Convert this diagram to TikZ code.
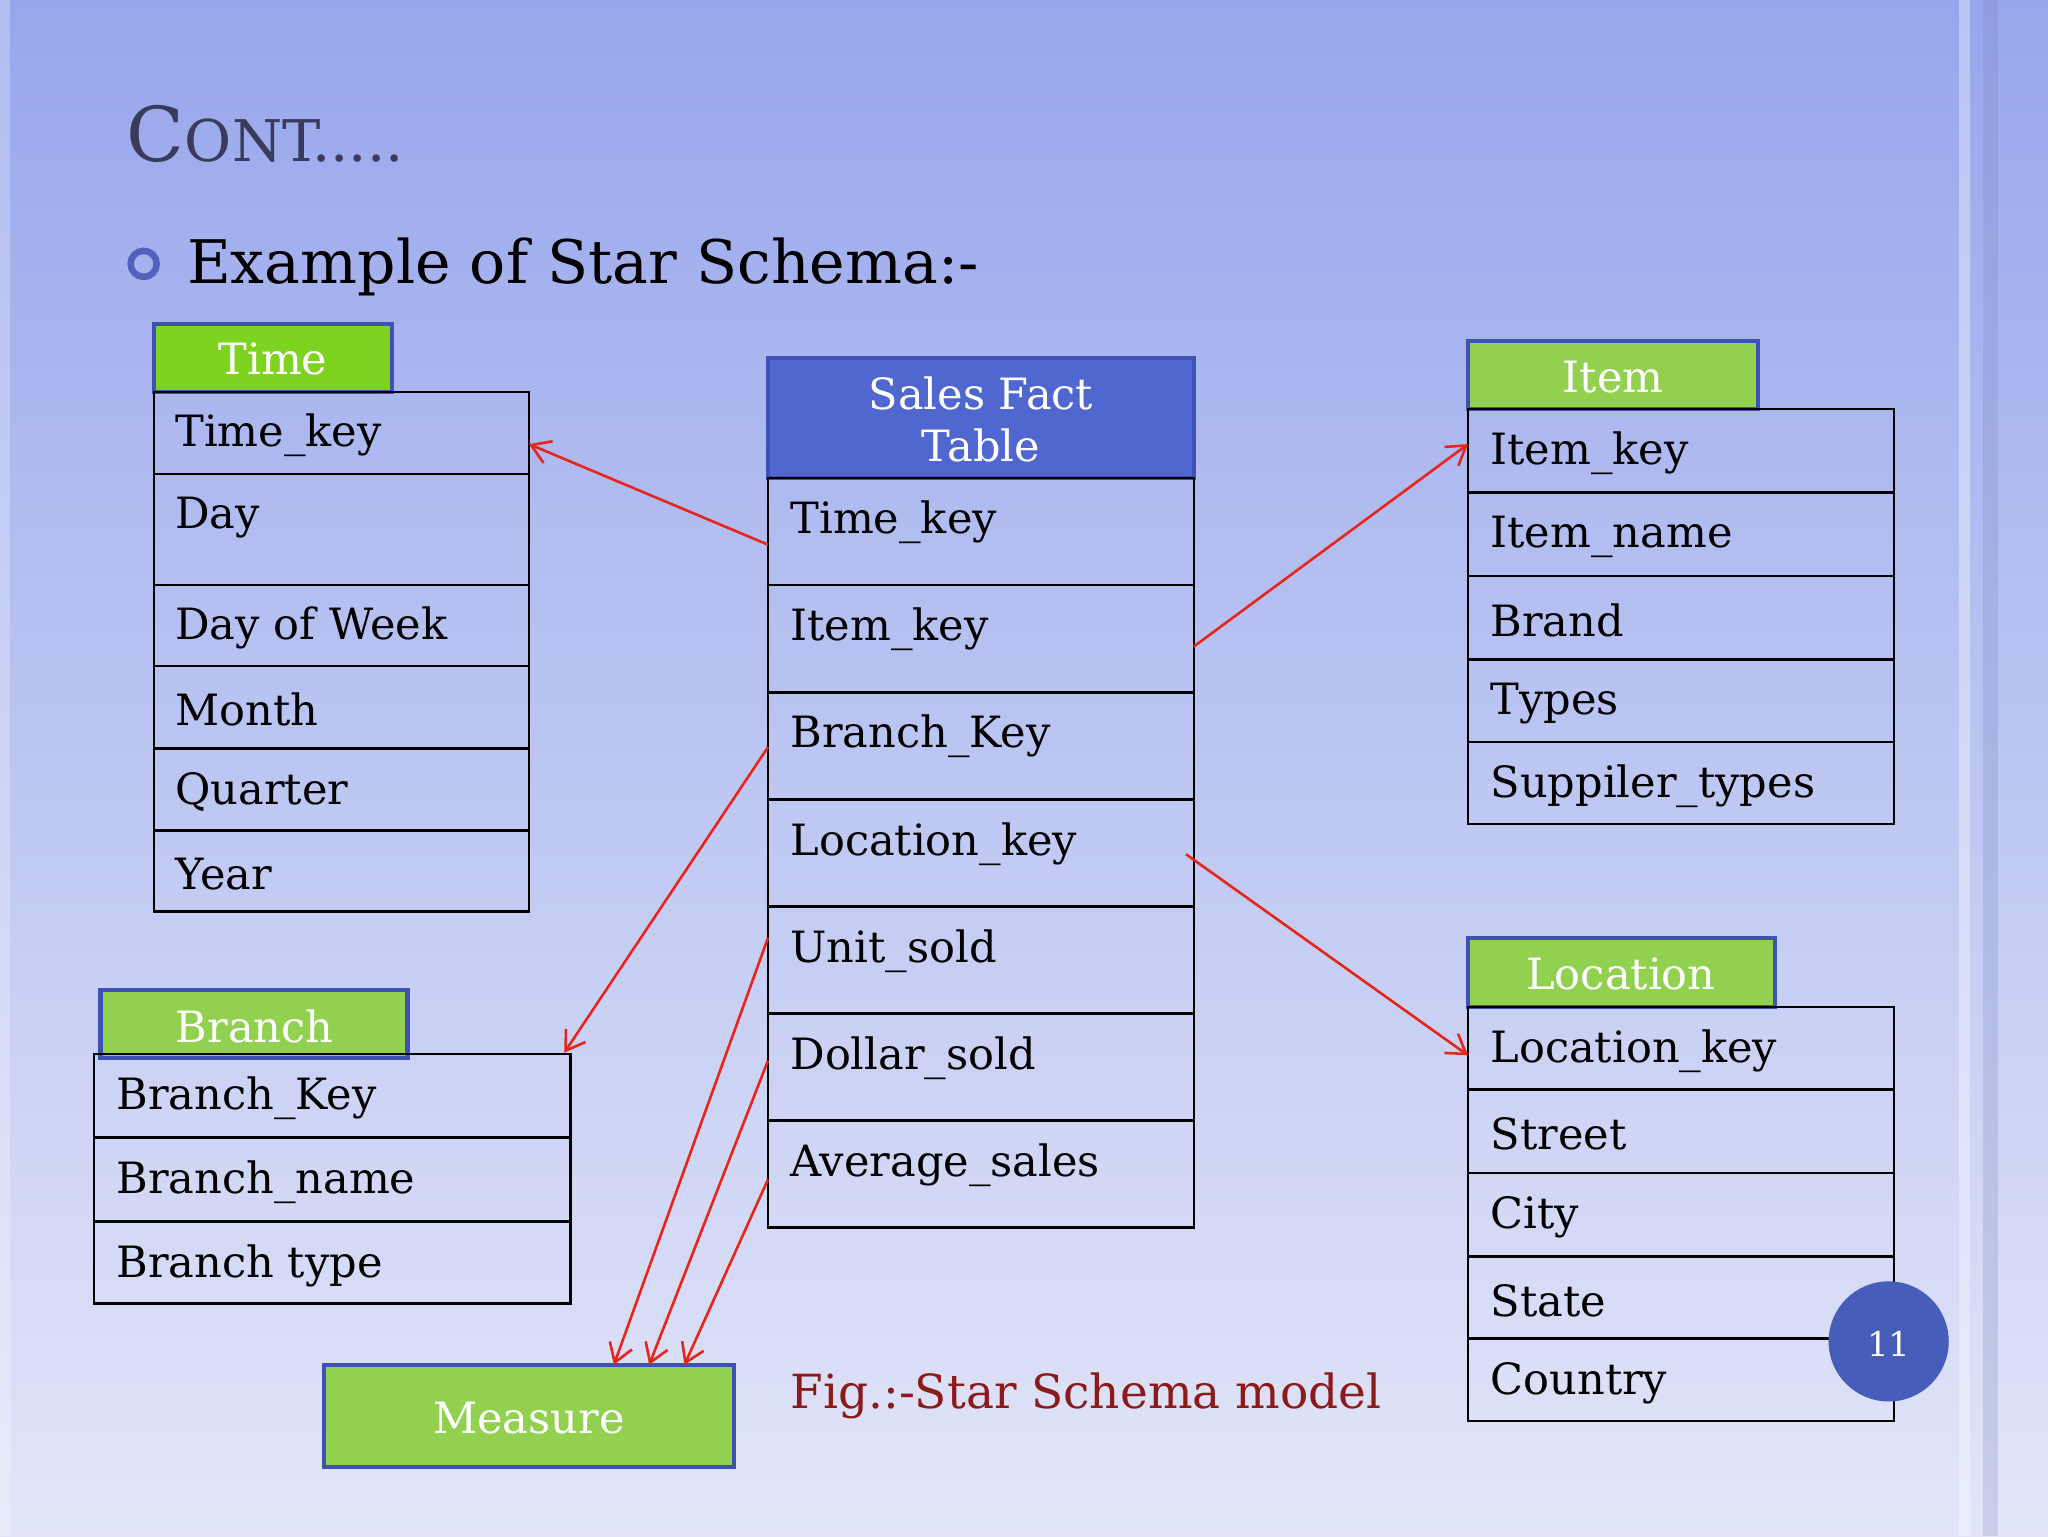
\documentclass[tikz,border=0pt]{standalone}
\usepackage{fontspec}
\setmainfont{DejaVu Serif}
\usetikzlibrary{arrows.meta}
\definecolor{bgtop}{HTML}{97A6EC}
\definecolor{bgbot}{HTML}{E2E6F8}
\definecolor{hdrblue}{HTML}{4F67CF}
\definecolor{hdrgreen}{HTML}{92D050}
\definecolor{hdrgreen2}{HTML}{7ED321}
\definecolor{bord}{HTML}{3F51B5}
\definecolor{arr}{HTML}{E8251A}
\definecolor{figred}{HTML}{8B1A1A}
\definecolor{titlec}{HTML}{3A3A5A}
\tikzset{
 row/.style={draw=black,line width=2pt},
 rowtxt/.style={anchor=west,font=\fontsize{33}{33}\selectfont,inner sep=0pt},
 hdr/.style={draw=bord,line width=3.5pt},
 hdrtxt/.style={text=white,font=\fontsize{33}{40}\selectfont,align=center},
 conn/.style={draw=arr,line width=2pt,-{Straight Barb[length=14pt,width=18pt,line width=2pt]}}
}
\begin{document}
\begin{tikzpicture}[x=1pt,y=-1pt]
\shade[top color=bgtop,bottom color=bgbot] (0,0) rectangle (1568,1176);
\useasboundingbox (0,0) rectangle (1568,1176);
\fill[white,opacity=0.35] (1500,0) rectangle (1508,1176);
\fill[bgtop!80!black,opacity=0.25] (1518,0) rectangle (1530,1176);
\fill[white,opacity=0.25] (0,0) rectangle (8,1176);
% title
\node[anchor=base west,text=titlec,font=\fontsize{58}{58}\selectfont,inner sep=0] (title) at (97,124) {C\fontsize{44}{44}\selectfont ONT.....};
\draw[bord!90,line width=5pt] (110,202) circle (10);
\node[anchor=base west,font=\fontsize{46}{46}\selectfont,inner sep=0] (sub) at (143,217) {Example of Star Schema:-};
% Time
\fill[hdrgreen2] (118,248) rectangle (300,300);
\draw[hdr] (118,248) rectangle (300,300);
\node[hdrtxt] (timeh) at (209,275) {Time};
\foreach \a/\b/\t/\n in {300/363/Time\_key/t1,363/448/Day/t2,448/510/Day of Week/t3,510/573/Month/t4,573/636/Quarter/t5,636/698/Year/t6}{
 \draw[row] (118,\a) rectangle (405,\b);
 \node[rowtxt] (\n) at (134,\a+33) {\t};}
% Sales
\fill[hdrblue] (588,274) rectangle (914,366);
\draw[hdr] (588,274) rectangle (914,366);
\node[hdrtxt] (salesh) at (751,321) {Sales Fact\\Table};
\foreach \a/\b/\t/\n in {366/448/Time\_key/s1,448/530/Item\_key/s2,530/612/Branch\_Key/s3,612/694/Location\_key/s4,694/776/Unit\_sold/s5,776/858/Dollar\_sold/s6,858/940/Average\_sales/s7}{
 \draw[row] (588,\a) rectangle (914,\b);
 \node[rowtxt] (\n) at (605,\a+34) {\t};}
% Item
\fill[hdrgreen] (1124,261) rectangle (1346,313);
\draw[hdr] (1124,261) rectangle (1346,313);
\node[hdrtxt] (itemh) at (1235,289) {Item};
\foreach \a/\b/\t/\n in {313/377/Item\_key/i1,377/441/Item\_name/i2,441/505/Brand/i3,505/568/Types/i4,568/631/Suppiler\_types/i5}{
 \draw[row] (1124,\a) rectangle (1450,\b);
 \node[rowtxt] (\n) at (1141,\a+34) {\t};}
% Location
\fill[hdrgreen] (1124,718) rectangle (1359,771);
\draw[hdr] (1124,718) rectangle (1359,771);
\node[hdrtxt] (loch) at (1241,746) {Location};
\foreach \a/\b/\t/\n in {771/834/Location\_key/l1,834/898/Street/l2,898/962/City/l3,962/1025/State/l4,1025/1088/Country/l5}{
 \draw[row] (1124,\a) rectangle (1450,\b);
 \node[rowtxt] (\n) at (1141,\a+34) {\t};}
% Branch
\fill[hdrgreen] (77,758) rectangle (312,810);
\draw[hdr] (77,758) rectangle (312,810);
\node[hdrtxt] (brh) at (195,786) {Branch};
\foreach \a/\b/\t/\n in {807/871/Branch\_Key/b1,871/935/Branch\_name/b2,935/998/Branch type/b3}{
 \draw[row] (72,\a) rectangle (437,\b);
 \node[rowtxt] (\n) at (89,\a+34) {\t};}
% Measure
\fill[hdrgreen] (248,1045) rectangle (562,1123);
\draw[hdr] (248,1045) rectangle (562,1123);
\node[hdrtxt] (meas) at (405,1086) {Measure};
\node[anchor=base west,text=figred,font=\fontsize{36}{36}\selectfont,inner sep=0] (fig) at (605,1078) {Fig.:-Star Schema model};
% page number
\fill[hdrblue!90!black] (1446,1027) circle (46);
\node[text=white,font=\fontsize{26}{26}\selectfont] (pn) at (1446,1029) {11};
% connectors
\coordinate (c1a) at (588,417); \coordinate (c1b) at (405,340);
\coordinate (c2a) at (914,495); \coordinate (c2b) at (1124,340);
\coordinate (c3a) at (588,572); \coordinate (c3b) at (432,806);
\coordinate (c4a) at (908,654); \coordinate (c4b) at (1124,808);
\coordinate (c5a) at (588,718); \coordinate (c5b) at (470,1045);
\coordinate (c6a) at (588,812); \coordinate (c6b) at (497,1045);
\coordinate (c7a) at (588,903); \coordinate (c7b) at (524,1045);
\foreach \i in {1,...,7}{\draw[conn] (c\i a) -- (c\i b);}
\end{tikzpicture}
\end{document}
